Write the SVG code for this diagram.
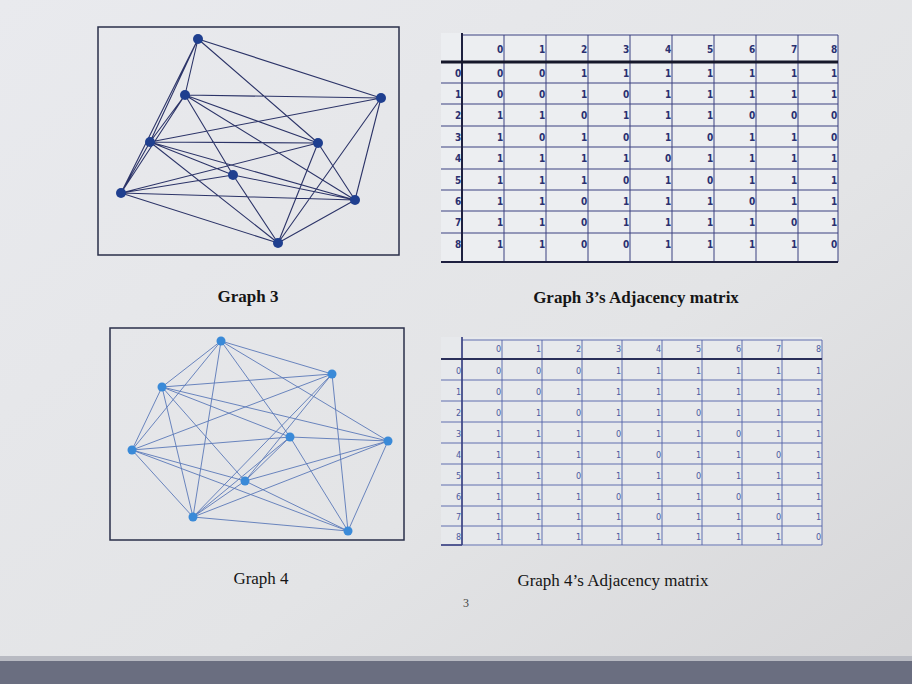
<svg xmlns="http://www.w3.org/2000/svg" width="912" height="684" viewBox="0 0 912 684">
<defs>
<linearGradient id="bg" x1="0" y1="0" x2="1" y2="1"><stop offset="0" stop-color="#e9eaee"/><stop offset="0.6" stop-color="#e3e4e6"/><stop offset="1" stop-color="#d6d6d8"/></linearGradient>
</defs>
<style>
.e3{stroke:#2c3468;stroke-width:1.1;fill:none}
.e4{stroke:#5a78b8;stroke-width:0.9;fill:none}
.n3{fill:#1f3f8f}
.n4{fill:#3a8ad8}
.frame{fill:none;stroke:#2a2f4a;stroke-width:1.5}
.g3{stroke:#3a4080;stroke-width:1}
.g4{stroke:#5060a8;stroke-width:0.9}
.m3{font-family:"DejaVu Sans Condensed","DejaVu Sans",sans-serif;font-size:10px;font-weight:bold;fill:#2a3070}
.m4{font-family:"DejaVu Sans Condensed","DejaVu Sans",sans-serif;font-size:9px;fill:#4a5aa0}
.cap{font-family:"Liberation Serif",serif;font-size:17px;fill:#151515}
</style>
<rect width="912" height="684" fill="url(#bg)"/>
<rect x="0" y="660" width="912" height="24" fill="#6a6e80"/>
<rect x="0" y="656" width="912" height="5" fill="#b8bac2"/>

<rect x="98" y="27" width="301" height="228" fill="#eeeff2" class="frame"/>
<g id="edges3">
<path class="e3" d="M198,39L381,98M198,39L318,143M198,39L150,142M198,39L121,193M198,39L185,95M185,95L381,98M185,95L150,142M185,95L318,143M185,95L355,200M185,95L233,175M185,95L121,193M381,98L150,142M381,98L355,200M381,98L278,243M150,142L318,143M150,142L233,175M150,142L355,200M150,142L278,243M150,142L121,193M318,143L121,193M318,143L355,200M318,143L278,243M233,175L121,193M233,175L355,200M233,175L278,243M121,193L355,200M121,193L278,243M355,200L278,243"/>
</g>
<g id="nodes3">
<circle class="n3" cx="198" cy="39" r="5"/><circle class="n3" cx="185" cy="95" r="5"/><circle class="n3" cx="381" cy="98" r="5"/><circle class="n3" cx="150" cy="142" r="5"/><circle class="n3" cx="318" cy="143" r="5"/><circle class="n3" cx="233" cy="175" r="5"/><circle class="n3" cx="121" cy="193" r="5"/><circle class="n3" cx="355" cy="200" r="5"/><circle class="n3" cx="278" cy="243" r="5"/>
</g>

<rect x="110" y="328" width="294" height="212" fill="#e9eaee" class="frame"/>
<g id="edges4">
<path class="e4" d="M221,341L332,374M221,341L162,387M221,341L132,450M221,341L193,517M221,341L290,437M221,341L388,441M332,374L162,387M332,374L132,450M332,374L245,481M332,374L193,517M332,374L348,531M162,387L388,441M162,387L290,437M162,387L193,517M162,387L245,481M162,387L132,450M132,450L290,437M132,450L245,481M132,450L348,531M132,450L193,517M290,437L388,441M290,437L348,531M290,437L193,517M290,437L245,481M388,441L245,481M388,441L193,517M388,441L348,531M245,481L348,531M245,481L193,517M193,517L348,531"/>
</g>
<g id="nodes4">
<circle class="n4" cx="221" cy="341" r="4.5"/><circle class="n4" cx="332" cy="374" r="4.5"/><circle class="n4" cx="162" cy="387" r="4.5"/><circle class="n4" cx="290" cy="437" r="4.5"/><circle class="n4" cx="388" cy="441" r="4.5"/><circle class="n4" cx="132" cy="450" r="4.5"/><circle class="n4" cx="245" cy="481" r="4.5"/><circle class="n4" cx="193" cy="517" r="4.5"/><circle class="n4" cx="348" cy="531" r="4.5"/>
</g>

<g id="matrix3">
<rect x="441" y="33" width="397" height="229" fill="#eceef1"/>
<path class="g3" d="M462,33V262M504,35V262M546,35V262M588,35V262M630,35V262M672,35V262M714,35V262M756,35V262M798,35V262M838,35V262M462,35H838M441,83H838M441,104H838M441,126H838M441,147H838M441,169H838M441,190H838M441,211H838M441,233H838"/>
<path d="M462,33V262M441,262H838" stroke="#1e2040" stroke-width="2"/>
<path d="M441,62H838" stroke="#15172a" stroke-width="3"/>
<text class="m3" x="497 539 581 623 665 707 749 791 831" y="53">012345678</text>
<text class="m3" x="455 497 539 581 623 665 707 749 791 831" y="77">0001111111</text>
<text class="m3" x="455 497 539 581 623 665 707 749 791 831" y="98">1001011111</text>
<text class="m3" x="455 497 539 581 623 665 707 749 791 831" y="119">2110111000</text>
<text class="m3" x="455 497 539 581 623 665 707 749 791 831" y="141">3101010110</text>
<text class="m3" x="455 497 539 581 623 665 707 749 791 831" y="162">4111101111</text>
<text class="m3" x="455 497 539 581 623 665 707 749 791 831" y="184">5111010111</text>
<text class="m3" x="455 497 539 581 623 665 707 749 791 831" y="205">6110111011</text>
<text class="m3" x="455 497 539 581 623 665 707 749 791 831" y="226">7110111101</text>
<text class="m3" x="455 497 539 581 623 665 707 749 791 831" y="248">8110011110</text>
</g>

<g id="matrix4">
<rect x="441" y="337" width="381" height="209" fill="#e7e9ec"/>
<path class="g4" d="M462,337V545M502,340V545M542,340V545M582,340V545M622,340V545M662,340V545M702,340V545M742,340V545M782,340V545M822,340V545M462,340H822M441,380H822M441,401H822M441,422H822M441,443H822M441,464H822M441,485H822M441,506H822M441,526H822M441,545H822"/>
<path d="M462,337V545M441,545H462" stroke="#3a4080" stroke-width="1.5"/>
<path d="M441,359H822" stroke="#2a2f5a" stroke-width="2"/>
<text class="m4" x="496 536 576 616 656 696 736 776 816" y="352">012345678</text>
<text class="m4" x="456 496 536 576 616 656 696 736 776 816" y="374">0000111111</text>
<text class="m4" x="456 496 536 576 616 656 696 736 776 816" y="395">1001111111</text>
<text class="m4" x="456 496 536 576 616 656 696 736 776 816" y="416">2010110111</text>
<text class="m4" x="456 496 536 576 616 656 696 736 776 816" y="437">3111011011</text>
<text class="m4" x="456 496 536 576 616 656 696 736 776 816" y="458">4111101101</text>
<text class="m4" x="456 496 536 576 616 656 696 736 776 816" y="479">5110110111</text>
<text class="m4" x="456 496 536 576 616 656 696 736 776 816" y="500">6111011011</text>
<text class="m4" x="456 496 536 576 616 656 696 736 776 816" y="520">7111101101</text>
<text class="m4" x="456 496 536 576 616 656 696 736 776 816" y="540">8111111110</text>
</g>

<text class="cap" x="248" y="302" text-anchor="middle" font-weight="bold">Graph 3</text>
<text class="cap" x="636" y="303" text-anchor="middle" font-weight="bold">Graph 3’s Adjacency matrix</text>
<text class="cap" x="261" y="584" text-anchor="middle" fill="#333">Graph 4</text>
<text class="cap" x="613" y="586" text-anchor="middle" fill="#333">Graph 4’s Adjacency matrix</text>
<text x="466" y="607" font-family="Liberation Serif,serif" font-size="12" fill="#444" text-anchor="middle">3</text>
</svg>
